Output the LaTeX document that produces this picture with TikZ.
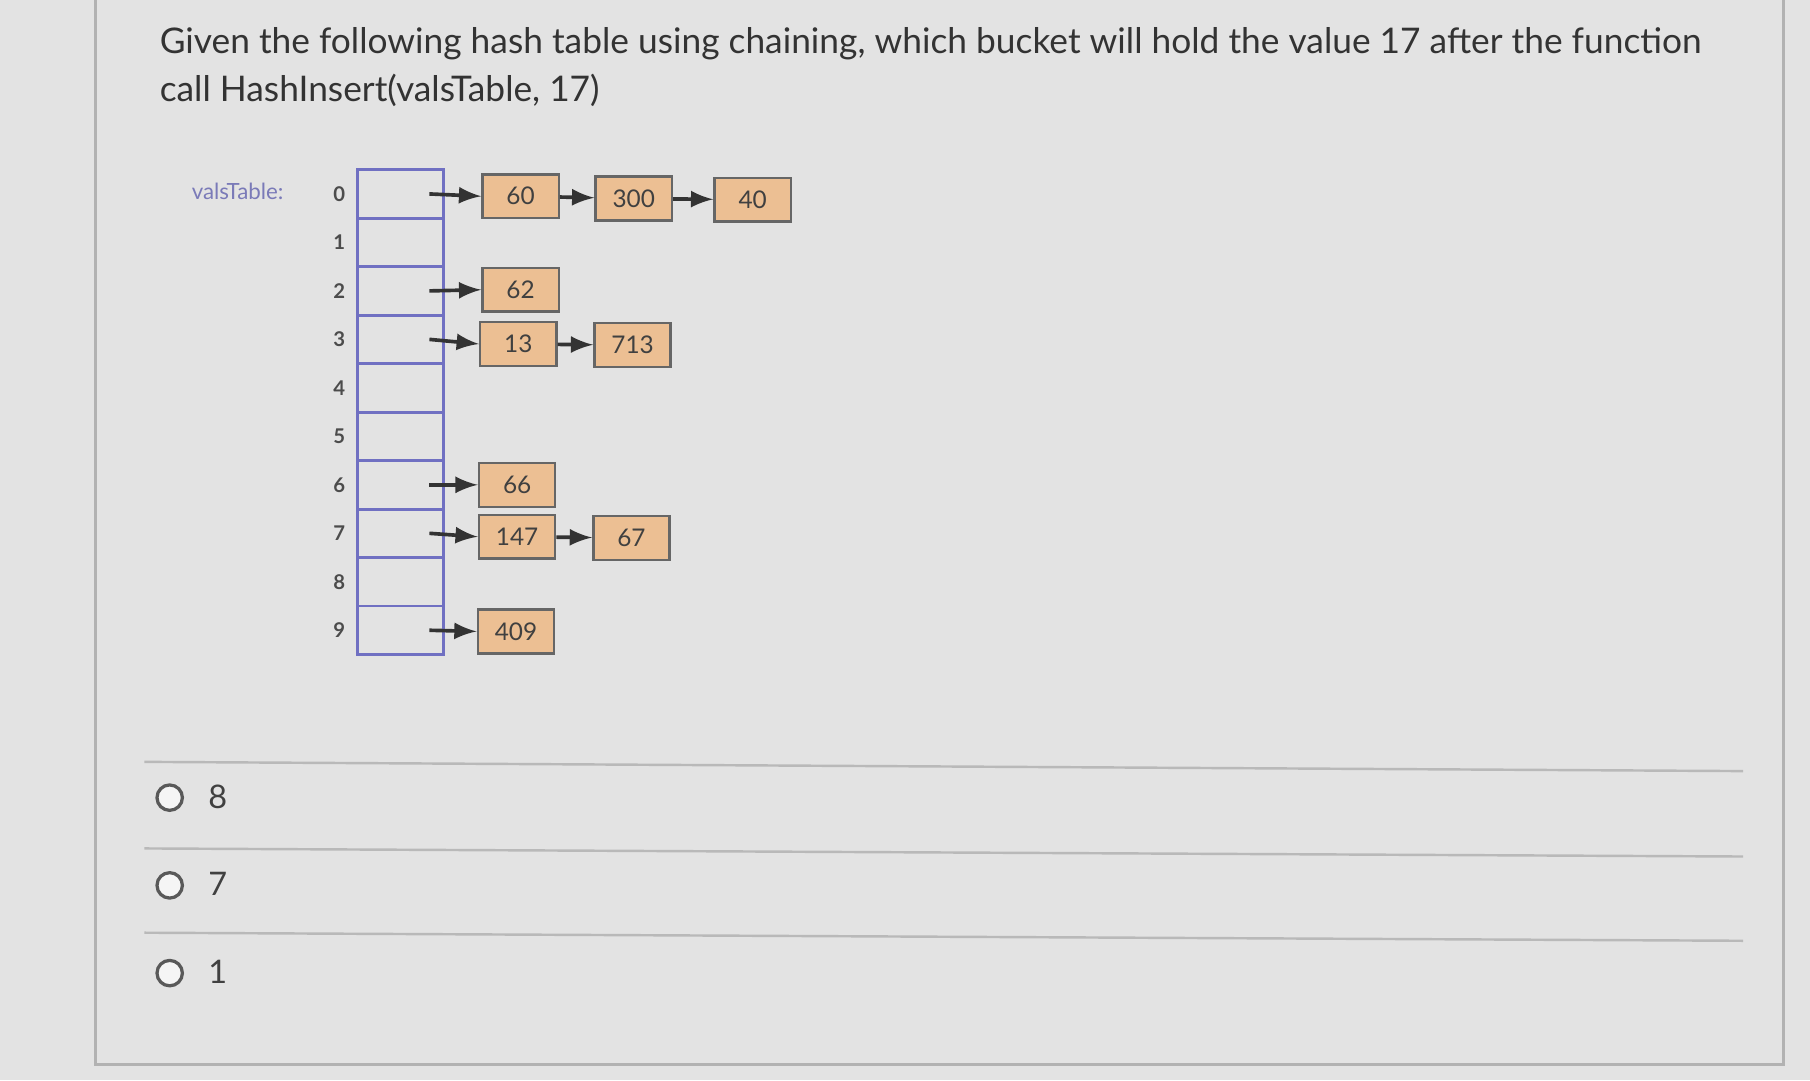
\documentclass[tikz,border=0pt]{standalone}
\usepackage{fontspec}
\setmainfont{Lato}
\begin{document}
\begin{tikzpicture}[x=0.01cm,y=-0.01cm,
  cell/.style={draw=blue!40!gray!80,line width=0.7pt,minimum width=0.74cm,minimum height=0.42cm,inner sep=0pt,outer sep=0pt},
  item/.style={draw=gray!80!black,fill=orange!40!brown!50!white,line width=0.6pt,minimum width=0.66cm,minimum height=0.38cm,inner sep=0pt,font=\fontsize{6}{7}\selectfont,text=gray!50!black},
  idx/.style={font=\fontsize{5}{6}\selectfont\bfseries,text=gray!60!black},
  ptr/.style={-latex,line width=0.9pt,black!80},
  sep/.style={draw=gray!55,line width=0.6pt},
  radio/.style={draw=gray!70!black,line width=0.8pt,fill=gray!8,circle,minimum size=0.22cm,inner sep=0pt},
  ans/.style={font=\fontsize{8}{9}\selectfont,text=black!75,anchor=west}]
\fill[gray!22] (0,0) rectangle (1568,936);
\useasboundingbox (0,0) rectangle (1568,936);
\draw[gray!60,line width=0.8pt] (83,0) -- (83,922) -- (1545,922) -- (1545,0);
\node[anchor=west,font=\fontsize{8.7}{10}\selectfont,text=black!80] (t1) at (126,38) {Given the following hash table using chaining, which bucket will hold the value 17 after the function};
\node[anchor=west,font=\fontsize{8.7}{10}\selectfont,text=black!80] (t2) at (126,78) {call HashInsert(valsTable, 17)};
\node[anchor=east,font=\fontsize{5.5}{6}\selectfont,text=blue!30!gray!80] (vt) at (258,166) {valsTable:};
\foreach \i in {0,...,9}{
  \node[cell] (c\i) at (347,{168+42*\i}) {};
  \node[idx] (n\i) at (294,{168+42*\i}) {\i};
}
\foreach \i in {0,2,3,6,7,9}{\coordinate (s\i) at (372,{168+42*\i});}
\node[item] (a60) at (451,170) {60};
\node[item] (a300) at (549,172) {300};
\node[item] (a40) at (652,173) {40};
\node[item] (a62) at (451,251) {62};
\node[item] (a13) at (449,298) {13};
\node[item] (a713) at (548,299) {713};
\node[item] (a66) at (448,420) {66};
\node[item] (a147) at (448,465) {147};
\node[item] (a67) at (547,466) {67};
\node[item] (a409) at (447,547) {409};
\draw[ptr] (s0) -- (a60.west);
\draw[ptr] (s2) -- (a62.west);
\draw[ptr] (s3) -- (a13.west);
\draw[ptr] (s6) -- (a66.west);
\draw[ptr] (s7) -- (a147.west);
\draw[ptr] (s9) -- (a409.west);
\draw[ptr] (a60) -- (a300);
\draw[ptr] (a300) -- (a40);
\draw[ptr] (a13) -- (a713);
\draw[ptr] (a147) -- (a67);
\draw[sep] (125,660) -- (1510,668);
\draw[sep] (125,735) -- (1510,742);
\draw[sep] (125,808) -- (1510,815);
\node[radio] (r1) at (147,691) {};
\node[radio] (r2) at (147,767) {};
\node[radio] (r3) at (147,843) {};
\node[ans] (l1) at (168,690) {8};
\node[ans] (l2) at (168,766) {7};
\node[ans] (l3) at (168,842) {1};
\end{tikzpicture}
\end{document}
